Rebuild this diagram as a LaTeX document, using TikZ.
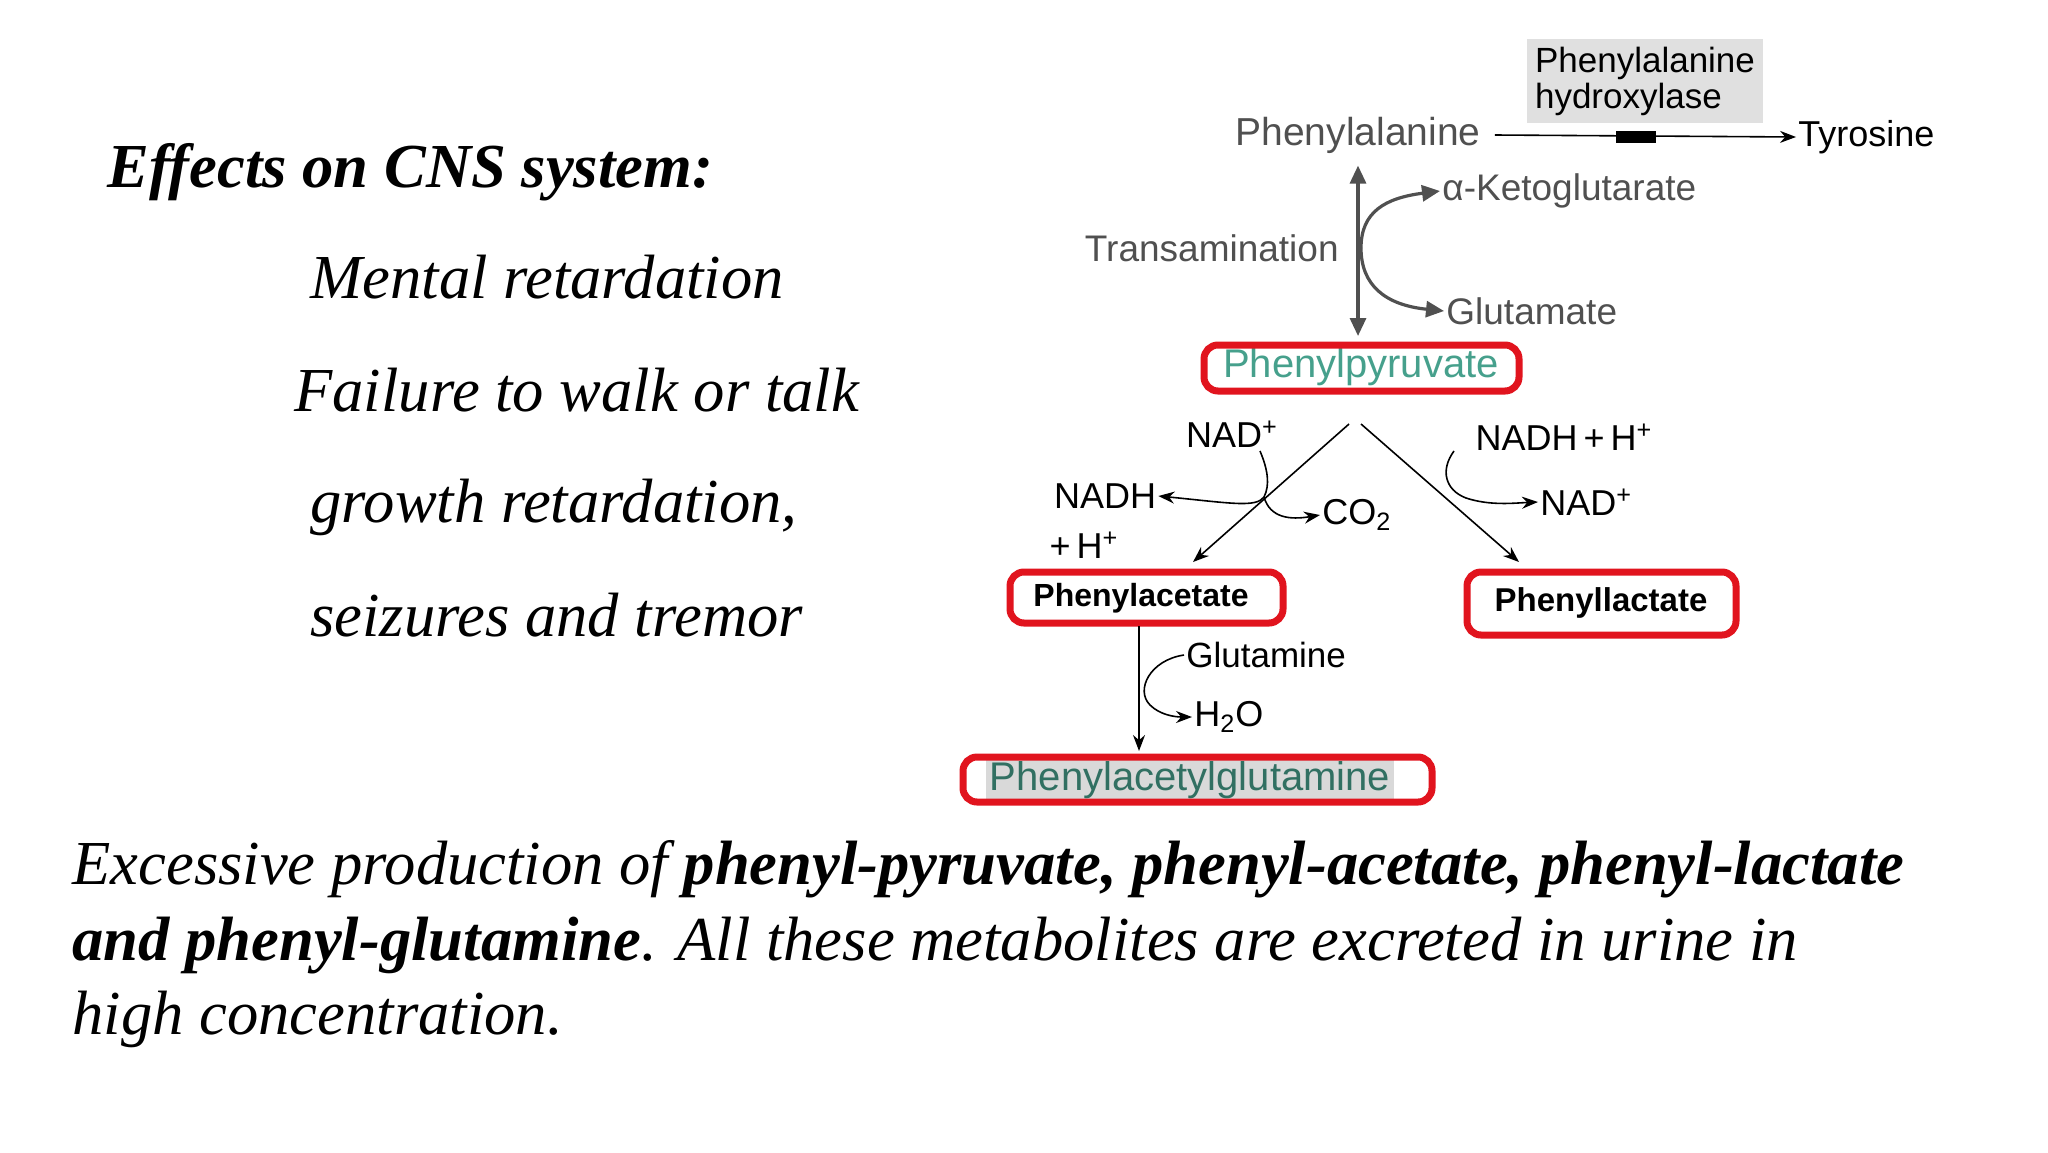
\documentclass[tikz,border=0pt]{standalone}
\usepackage{fontspec}
\setmainfont{Liberation Serif}
\setsansfont{Liberation Sans}
\usetikzlibrary{arrows.meta}
\definecolor{boxred}{RGB}{225,20,30}
\definecolor{teal2}{RGB}{70,160,140}
\definecolor{gtext}{RGB}{80,80,80}
\begin{document}
\begin{tikzpicture}[x=0.5pt,y=-0.5pt,
  big/.style={font=\fontsize{31.3}{38}\selectfont\itshape, anchor=base west, inner sep=0},
  dg/.style={font=\sffamily\fontsize{18}{20}\selectfont, inner sep=1pt},
  dgg/.style={dg, text=gtext, font=\sffamily\fontsize{18.5}{20}\selectfont},
  red/.style={draw=boxred, line width=3.5pt, rounded corners=7pt},
  ar/.style={-{Stealth[length=8pt,width=6pt]}, line width=0.8pt},
  arg/.style={-{Triangle[length=9pt,width=8pt]}, line width=1.6pt, draw=gtext}]
\useasboundingbox (0,0) rectangle (2048,1152);
% left texts
\node[big, font=\fontsize{31.3}{38}\selectfont\bfseries\itshape] (t0) at (107,187) {Effects on CNS system:};
\node[big] (t1) at (310,298) {Mental retardation};
\node[big] (t2) at (294,411) {Failure to walk or talk};
\node[big] (t3) at (310,522) {growth retardation,};
\node[big] (t4) at (310,636) {seizures and tremor};
\node[big] (b1) at (72,884) {Excessive production of \textbf{phenyl-pyruvate, phenyl-acetate, phenyl-lactate}};
\node[big] (b2) at (72,960) {\textbf{and phenyl-glutamine}. All these metabolites are excreted in urine in};
\node[big] (b3) at (72,1034) {high concentration.};
% diagram
\node[dgg, font=\sffamily\fontsize{19.5}{21}\selectfont] (phe) at (1358,135) {Phenylalanine};
\node[dg, anchor=west] (tyr) at (1796,137) {Tyrosine};
\node[dg, fill=black!12, align=left, inner sep=4pt, font=\sffamily\fontsize{17.5}{18}\selectfont] (enz) at (1645,81) {Phenylalanine\\hydroxylase};
\draw[ar] (phe.east)+(12,0) coordinate (pa) (pa) -- (tyr.west);
\node[fill=black, minimum width=20pt, minimum height=6pt, inner sep=0] (bar) at (1636,137) {};
\node[dgg, anchor=east] (trans) at (1341,248) {Transamination};
\node[dgg, anchor=west] (akg) at (1440,191) {α-Ketoglutarate};
\node[dgg, anchor=west] (glu) at (1444,311) {Glutamate};
\node[dg, text=teal2, font=\sffamily\fontsize{20}{21}\selectfont] (ppy) at (1361,367) {Phenylpyruvate};
\draw[red] (1204,345) rectangle (1519,391);
\draw[arg, {Triangle[length=9pt,width=8pt]}-{Triangle[length=9pt,width=8pt]}] (phe.south) ++(0,10) -- (1358,336);
\draw[arg] (1361,248) .. controls (1361,212) and (1385,198) .. (akg.west);
\draw[arg] (1361,248) .. controls (1361,285) and (1385,305) .. (glu.west);
% branches
\node[dg, font=\sffamily\bfseries\fontsize{16}{17}\selectfont] (pac) at (1141,598) {Phenylacetate};
\draw[red] (1010,572) rectangle (1283,623);
\node[dg, font=\sffamily\bfseries\fontsize{16.5}{18}\selectfont] (pla) at (1601,603) {Phenyllactate};
\draw[red] (1467,572) rectangle (1736,635);
\draw[ar] (1349,424) -- (1193,562);
\draw[ar] (1361,424) -- (1519,562);
\node[dg] (nad1) at (1232,434) {NAD\textsuperscript{+}};
\node[dg] (nadh1) at (1105,496) {NADH};
\node[dg] (hp) at (1084,545) {+\,H\textsuperscript{+}};
\node[dg, anchor=west] (co2) at (1320,515) {CO\textsubscript{2}};
\node[dg] (nadh2) at (1564,437) {NADH\,+\,H\textsuperscript{+}};
\node[dg, anchor=west] (nad2) at (1538,502) {NAD\textsuperscript{+}};
\draw[ar] (1260,451) .. controls (1268,470) and (1270,485) .. (1264,497) .. controls (1256,508) and (1230,503) .. (nadh1.east);
\draw[ar] (1264,497) .. controls (1270,518) and (1290,520) .. (co2.west);
\draw[ar] (1454,451) .. controls (1440,470) and (1445,490) .. (1466,498) .. controls (1490,506) and (1515,503) .. (nad2.west);
% glutamine step
\node[dg, text=teal2!70!black, font=\sffamily\fontsize{20}{21}\selectfont, fill=black!15, inner sep=2pt] (pag) at (1190,780) {Phenylacetylglutamine};
\draw[red] (963,757) rectangle (1432,802);
\node[dg, font=\sffamily\fontsize{17.5}{18}\selectfont, anchor=west] (gln) at (1184,655) {Glutamine};
\node[dg, anchor=west] (h2o) at (1192,717) {H\textsubscript{2}O};
\draw[ar] (1139,626) -- (1139,751);
\draw[ar] (gln.west) .. controls (1150,660) and (1135,690) .. (1150,705) .. controls (1160,715) and (1175,717) .. (h2o.west);
\end{tikzpicture}
\end{document}
